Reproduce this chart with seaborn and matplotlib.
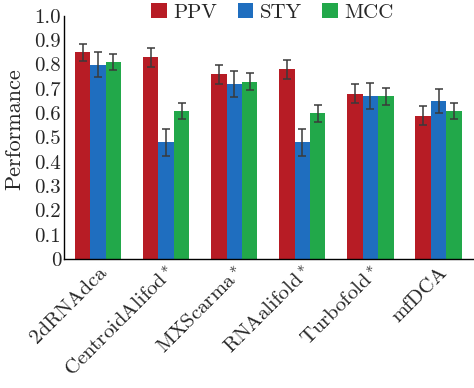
import pandas as pd
import seaborn as sns
import matplotlib
matplotlib.use('Agg')
import matplotlib.pyplot as plt

methods = ['2dRNAdca', 'CentroidAlifod$^*$', 'MXScarma$^*$', 'RNAalifold$^*$', 'Turbofold$^*$', 'mfDCA']
metrics = ['PPV', 'STY', 'MCC']
ppv = [0.85, 0.83, 0.76, 0.78, 0.68, 0.59]
sty = [0.80, 0.48, 0.72, 0.48, 0.67, 0.65]
mcc = [0.81, 0.61, 0.73, 0.60, 0.67, 0.61]
ppv_err = [0.035, 0.04, 0.04, 0.04, 0.04, 0.04]
sty_err = [0.05, 0.055, 0.053, 0.055, 0.053, 0.05]
mcc_err = [0.033, 0.033, 0.035, 0.035, 0.035, 0.033]
yticks = [0, 0.1, 0.2, 0.3, 0.4, 0.5, 0.6, 0.7, 0.8, 0.9, 1.0]
ytick_labels = ['0', '0.1', '0.2', '0.3', '0.4', '0.5', '0.6', '0.7', '0.8', '0.9', '1.0']

sns.set_style('white')
plt.rcParams['font.family'] = ['cmr10', 'DejaVu Serif']
plt.rcParams['mathtext.fontset'] = 'cm'
plt.rcParams['axes.formatter.use_mathtext'] = True

df = pd.DataFrame({
    'method': methods * 3,
    'metric': [m for m in metrics for _ in methods],
    'value': ppv + sty + mcc,
    'err': ppv_err + sty_err + mcc_err,
})

colors = ['#b71c25', '#1f6ebf', '#22a84a']
fs = 15

fig = plt.figure(figsize=(4.74, 3.88), dpi=100)
ax = fig.add_axes([0.135, 0.3325, 0.862, 0.6265])
sns.barplot(data=df, x='method', y='value', hue='metric', palette=colors,
            width=0.68, errorbar=None, saturation=1, linewidth=0, ax=ax)

# error bars placed on the bars seaborn drew
for container, metric in zip(ax.containers, metrics):
    sub = df[df['metric'] == metric]
    xs = [p.get_x() + p.get_width() / 2 for p in container.patches]
    ax.errorbar(xs, sub['value'], yerr=sub['err'], fmt='none',
                ecolor='#3a3a3a', elinewidth=1.1, capsize=3, capthick=1.1)

ax.set_xlim(-0.5, 5.5)
ax.set_ylim(0, 1.0)
ax.set_yticks(yticks)
ax.set_yticklabels(ytick_labels, fontsize=fs)
ax.tick_params(axis='y', length=0, pad=2)
ax.tick_params(axis='x', length=0, pad=3)
plt.setp(ax.get_xticklabels(), rotation=45, ha='right', rotation_mode='anchor', fontsize=fs)
ax.set_xlabel('')
ax.set_ylabel('Performance', fontsize=16)
ax.yaxis.set_label_coords(-0.098, 0.535)
sns.despine(ax=ax)
for s in ['left', 'bottom']:
    ax.spines[s].set_color('black')
    ax.spines[s].set_linewidth(1.0)

leg = ax.legend(ncol=3, frameon=False, loc='center', bbox_to_anchor=(0.51, 1.015),
                fontsize=fs, handlelength=0.75, handleheight=0.75, handletextpad=0.3,
                columnspacing=1.0, borderpad=0)
leg.set_title(None)

fig.savefig('out.png', dpi=100)
